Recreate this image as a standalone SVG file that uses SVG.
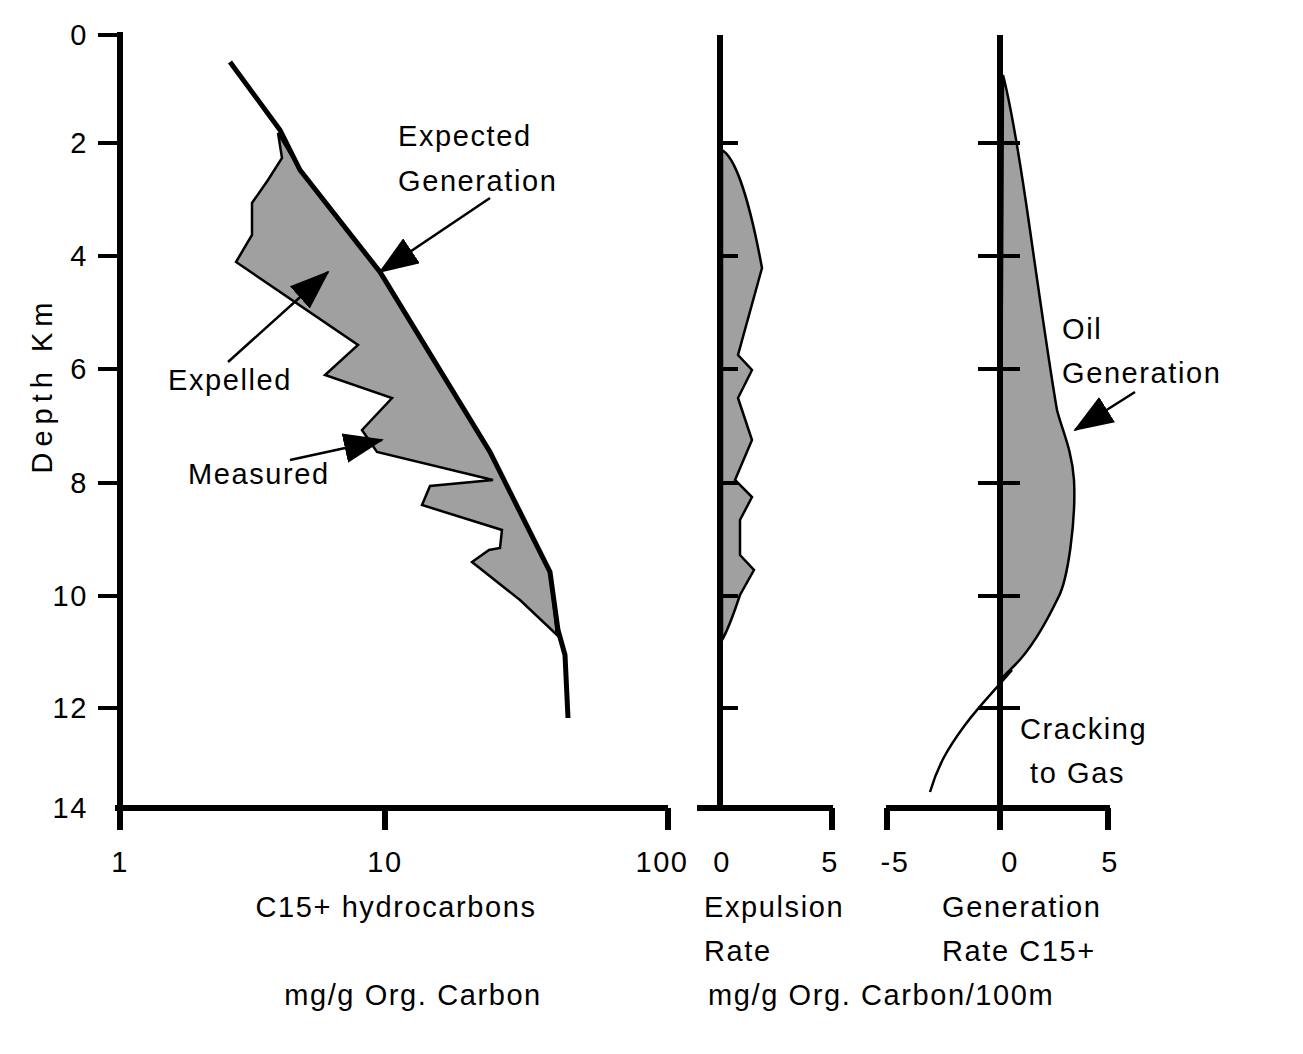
<svg xmlns="http://www.w3.org/2000/svg" width="1303" height="1054" viewBox="0 0 1303 1054">
<style>
text{font-family:"Liberation Sans",Arial,sans-serif;font-size:29px;letter-spacing:1.6px;fill:#000}
.ax{stroke:#000;stroke-width:6;fill:none}
.tk{stroke:#000;stroke-width:4;fill:none}
.sh{fill:#a0a0a0;stroke:#000;stroke-width:2.5}
</style>
<defs>
<marker id="hb" markerWidth="40" markerHeight="30" refX="38" refY="15" orient="auto" markerUnits="userSpaceOnUse" viewBox="0 0 40 30"><path d="M0,0L40,15L0,30Z" fill="#000"/></marker></defs>
<rect width="1303" height="1054" fill="#fff"/>
<g id="panel-left">
<path class="sh" d="M278,133 L282,158 L268,180 L252,203 L252,235 L236,262 L358,345 L325,375 L392,398 L362,430 L377,452 L493,480 L430,486 L422,505 L502,530 L500,548 L489,550 L472,562 L520,600 L557,635 L550,572 L490,452 L380,272 L300,170 Z"/>
<path d="M230,62 L280,130 L300,170 L380,272 L490,452 L550,572 L558,630 L565,655 L568,718" fill="none" stroke="#000" stroke-width="5"/>
<path class="ax" d="M120,32V808M115,808H668M120,808V830M385,808V830M668,808V830"/>
<path class="tk" d="M98,35H120M98,143H120M98,256H120M98,369H120M98,483H120M98,596H120M98,708H120"/>
<g text-anchor="end"><text x="88" y="45">0</text><text x="88" y="153">2</text><text x="88" y="266">4</text><text x="88" y="379">6</text><text x="88" y="493">8</text><text x="88" y="606">10</text><text x="88" y="718">12</text><text x="88" y="818">14</text></g>
<text transform="translate(52,385) rotate(-90)" text-anchor="middle" style="letter-spacing:6px">Depth Km</text>
<text x="120" y="872" text-anchor="middle">1</text><text x="385" y="872" text-anchor="middle">10</text><text x="662" y="872" text-anchor="middle">100</text>
<text x="396" y="917" text-anchor="middle">C15+ hydrocarbons</text>
<text x="413" y="1005" text-anchor="middle">mg/g Org. Carbon</text>
<text x="398" y="146">Expected</text><text x="398" y="191">Generation</text>
<text x="168" y="390">Expelled</text><text x="188" y="484">Measured</text>
</g>
<g id="panel-mid">
<path class="sh" d="M722,150 C740,160 755,230 762,268 L738,355 L752,370 L738,398 L752,440 L735,480 L752,497 L740,520 L740,555 L754,570 L740,595 C735,610 728,630 722,640 Z"/>
<path class="ax" d="M720,35V808M697,808H833M832,808V830"/>
<path class="tk" d="M720,143H738M720,256H738M720,369H738M720,483H738M720,596H738M720,708H738"/>
<text x="722" y="872" text-anchor="middle">0</text><text x="830" y="872" text-anchor="middle">5</text>
<text x="704" y="917">Expulsion</text><text x="704" y="961">Rate</text>
<text x="708" y="1005">mg/g Org. Carbon/100m</text>
</g>
<g id="panel-right">
<path class="sh" d="M1003,75 C1012,110 1020,160 1030,230 C1040,300 1050,370 1057,410 C1062,430 1072,450 1074,480 C1076,520 1068,580 1058,598 C1045,625 1030,650 1015,665 L1000,680 Z"/>
<path d="M1012,670 C995,690 980,705 965,725 C948,748 938,765 930,792" fill="none" stroke="#000" stroke-width="2.5"/>
<path class="ax" d="M1000,35V808M886,808H1110M887,808V830M1000,808V830M1108,808V830"/>
<path class="tk" d="M978,143H1020M978,256H1020M978,369H1020M978,483H1020M978,596H1020M978,708H1020"/>
<text x="895" y="872" text-anchor="middle">-5</text><text x="1010" y="872" text-anchor="middle">0</text><text x="1110" y="872" text-anchor="middle">5</text>
<text x="942" y="917">Generation</text><text x="942" y="961">Rate C15+</text>
<text x="1062" y="339">Oil</text><text x="1062" y="383">Generation</text>
<text x="1020" y="739">Cracking</text><text x="1030" y="783">to Gas</text>
</g>
<g id="connectors">
<line x1="490" y1="198" x2="380" y2="272" stroke="#000" stroke-width="2.5" marker-end="url(#hb)"/>
<line x1="228" y1="362" x2="328" y2="272" stroke="#000" stroke-width="2.5" marker-end="url(#hb)"/>
<line x1="290" y1="460" x2="382" y2="440" stroke="#000" stroke-width="2.5" marker-end="url(#hb)"/>
<line x1="1135" y1="392" x2="1075" y2="430" stroke="#000" stroke-width="2.5" marker-end="url(#hb)"/>
</g>
</svg>
